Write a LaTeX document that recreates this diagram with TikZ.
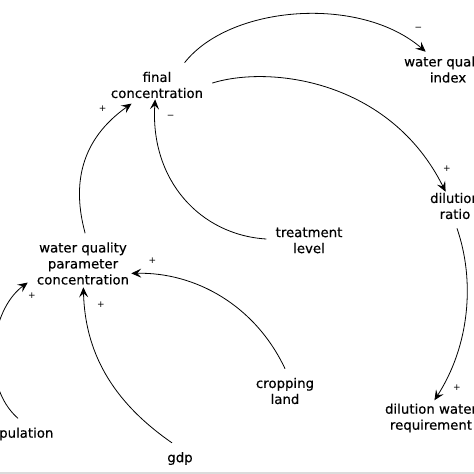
\documentclass[tikz,border=0pt]{standalone}
\usepackage{fontspec}
\setmainfont{DejaVu Sans}
\newfontfamily\varfont{DejaVu Sans}[FakeBold=0.4]
\usetikzlibrary{arrows.meta}

\tikzset{
  var/.style={align=center, inner sep=9pt, font=\varfont\fontsize{13.3}{16}\selectfont},
  sgn/.style={inner sep=0pt, font=\fontsize{9}{9}\selectfont},
  link/.style={-{Stealth[length=10pt,width=9pt,inset=4pt]}, line width=0.8pt}
}

\begin{document}
\begin{tikzpicture}[x=1pt,y=-1pt]
\useasboundingbox (0,0) rectangle (474,474);
\clip (0,0) rectangle (474,474);
\fill[black!14] (0,472) rectangle (474,474);

%% variables
\node[var] (fc)   at (157,85)    {final\\concentration};
\node[var] (wqi)  at (448,69.5)  {water quality\\index};
\node[var] (dr)   at (455,206)   {dilution\\ratio};
\node[var] (tl)   at (309,240.5) {treatment\\level};
\node[var] (wqpc) at (83,263.5)  {water quality\\parameter\\concentration};
\node[var] (pop)  at (18,434)    {population};
\node[var] (gdp)  at (180,458.5) {gdp};
\node[var] (cl)   at (285,391)   {cropping\\land};
\node[var] (dwr)  at (431,418)   {dilution water\\requirement};

%% polarities
\node[sgn] (s1) at (418.5,28.5) {−};   %% fc-wqi
\node[sgn] (s2) at (447,168.3)  {+};   %% fc-dr
\node[sgn] (s3) at (170.7,117.3) {−};  %% tl-fc
\node[sgn] (s4) at (102.7,108.3) {+};  %% wqpc-fc
\node[sgn] (s5) at (32,296)     {+};   %% pop-wqpc
\node[sgn] (s6) at (101,304.3)  {+};   %% gdp-wqpc
\node[sgn] (s7) at (152.3,261)  {+};   %% cl-wqpc
\node[sgn] (s8) at (457,388)    {+};   %% dr-dwr

%% links
\draw[link, shorten >=-7pt] (fc.39) .. controls (230,5) and (360,-5) .. (wqi.141);        %% fc-wqi
\draw[link, shorten >=-9pt] (fc.2) .. controls (270,65) and (390,80) .. (dr.121);         %% fc-dr
\draw[link, shorten >=-8pt] (tl.178) .. controls (200,235) and (150,180) .. (fc.264);     %% tl-fc
\draw[link, shorten >=-6.5pt] (wqpc.86) .. controls (72,185) and (80,140) .. (fc.216.6);  %% wqpc-fc
\draw[link] (pop.north) .. controls (-20,385) and (-10,310) .. (wqpc.199.2);              %% pop-wqpc
\draw[link, shorten >=-6.5pt] (gdp.117.3) .. controls (110,400) and (85,350) .. (wqpc.271.6); %% gdp-wqpc
\draw[link, shorten >=-7pt] (cl.north) .. controls (255,305) and (195,272) .. (wqpc.350.4); %% cl-wqpc
\draw[link, shorten >=-7pt] (dr.275.4) .. controls (475,280) and (470,345) .. (dwr.73.3); %% dr-dwr
\end{tikzpicture}
\end{document}
